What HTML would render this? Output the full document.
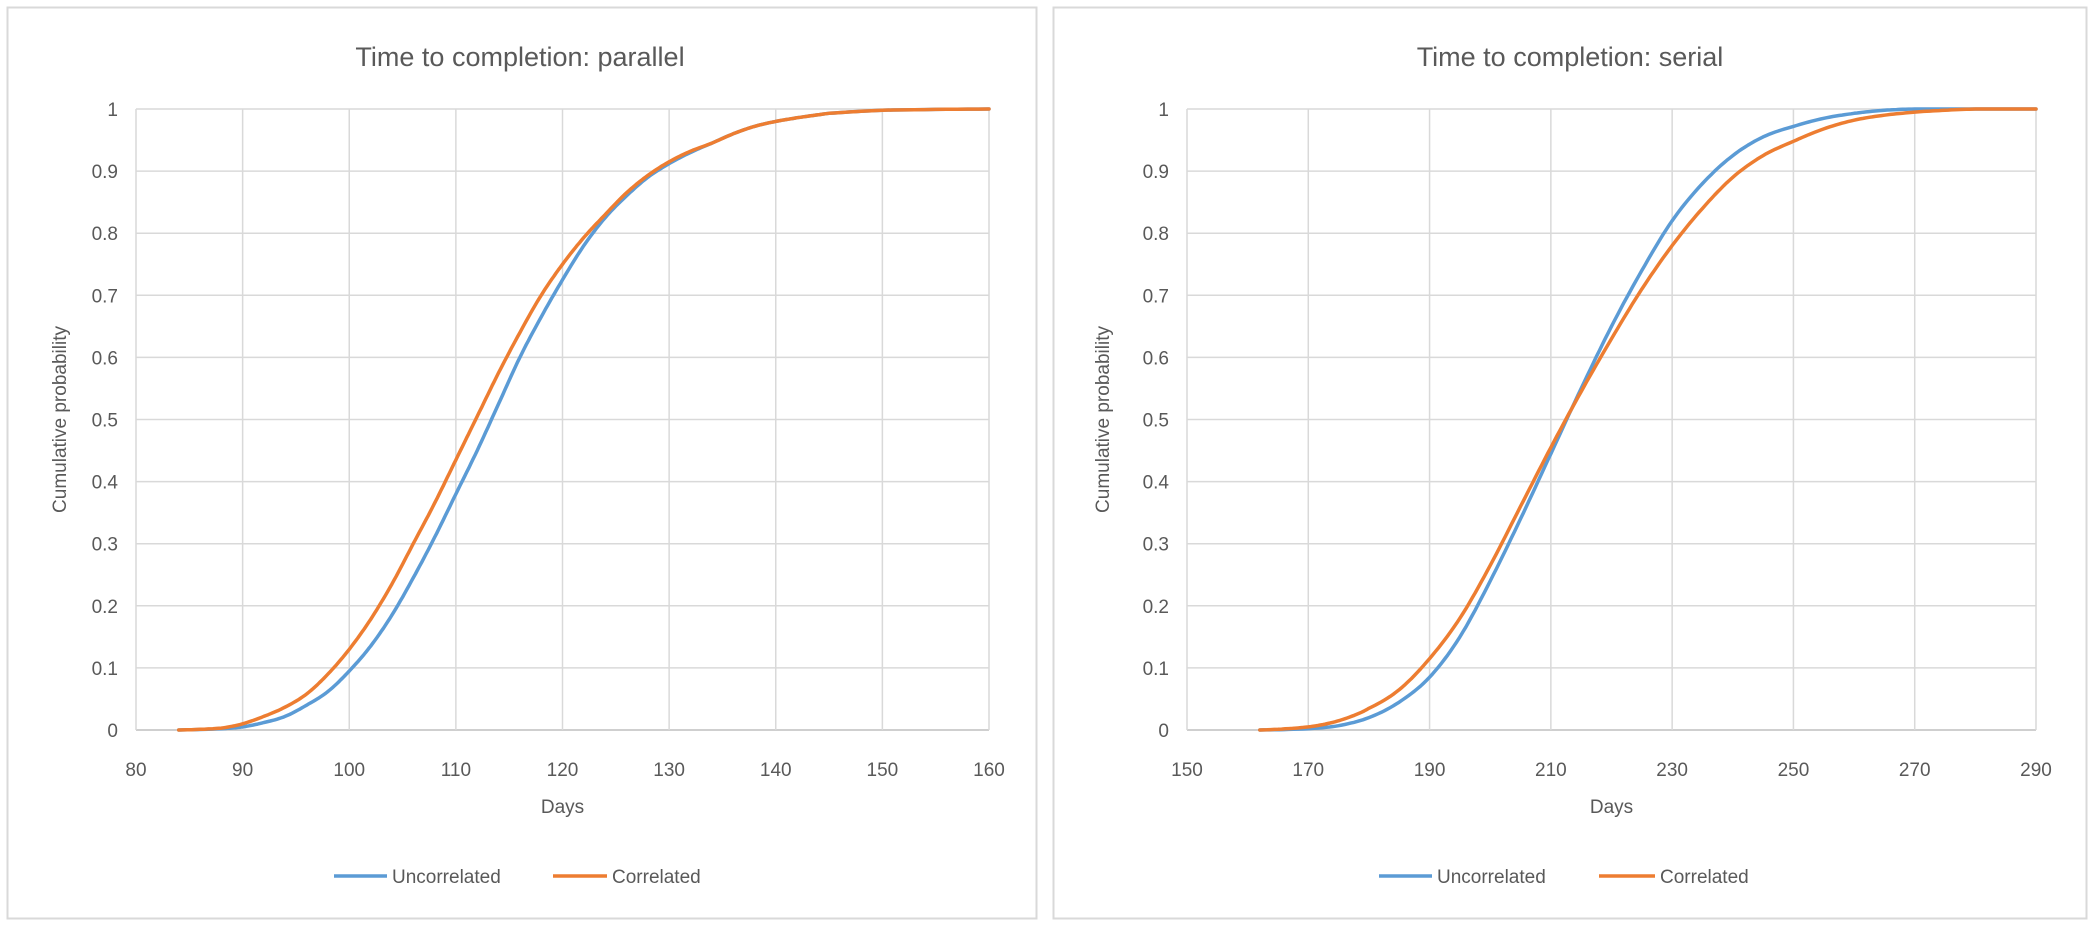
<!DOCTYPE html>
<html><head><meta charset="utf-8"><style>
html,body{margin:0;padding:0;background:#fff;}
svg{display:block;font-family:"Liberation Sans",sans-serif;}
</style></head><body>
<svg id="s" width="2093" height="925" viewBox="0 0 2093 925" xmlns="http://www.w3.org/2000/svg">
<rect x="0" y="0" width="2093" height="925" fill="#fff"/>
<rect x="7.5" y="7.5" width="1029" height="911" fill="none" stroke="#d9d9d9" stroke-width="2"/>
<rect x="1053.5" y="7.5" width="1033" height="911" fill="none" stroke="#d9d9d9" stroke-width="2"/>
<g id="g"></g>
</svg>
<script>
const NS="http://www.w3.org/2000/svg";
const g=document.getElementById('g');
function el(t,a,txt){const e=document.createElementNS(NS,t);for(const k in a)e.setAttribute(k,a[k]);if(txt!==undefined)e.textContent=txt;g.appendChild(e);return e;}
const Y0=730,Y1=109;
function chart(o){
  const {x0,x1,xmin,xmax,step,title,cx,series,legend,ylab}=o;
  const sx=v=>x0+(v-xmin)/(xmax-xmin)*(x1-x0);
  const sy=p=>Y0+(Y1-Y0)*p;
  for(let i=0;i<=10;i++){const y=sy(i/10);el('line',{x1:x0,x2:x1,y1:y,y2:y,stroke:i==0?'#bfbfbf':'#d9d9d9','stroke-width':1.5});
    el('text',{x:x0-18,y:y+7,'text-anchor':'end','font-size':19,fill:'#595959'},i==0?'0':i==10?'1':(i/10).toString());}
  for(let v=xmin;v<=xmax;v+=step){const x=sx(v);el('line',{x1:x,x2:x,y1:Y1,y2:Y0,stroke:'#d9d9d9','stroke-width':1.5});
    el('text',{x:x,y:776,'text-anchor':'middle','font-size':19,fill:'#595959'},v);}
  el('text',{x:cx,y:66,'text-anchor':'middle','font-size':27,fill:'#595959'},title);
  el('text',{x:(x0+x1)/2,y:813,'text-anchor':'middle','font-size':19,fill:'#595959'},'Days');
  el('text',{x:0,y:0,'text-anchor':'middle','font-size':19,fill:'#595959',transform:`translate(${ylab},${(Y0+Y1)/2}) rotate(-90)`},'Cumulative probability');
  series.forEach(s=>{
    // monotone-ish smoothing via linear interpolation on fine grid
    const pts=s.d;let str='';
    for(let i=0;i<pts.length-1;i++){
      const [a,pa]=pts[i],[b,pb]=pts[i+1];
      const p0=i>0?pts[i-1][1]:pa, p3=i<pts.length-2?pts[i+2][1]:pb;
      for(let t=0;t<1;t+=0.1){
        let p=0.5*((2*pa)+(-p0+pb)*t+(2*p0-5*pa+4*pb-p3)*t*t+(-p0+3*pa-3*pb+p3)*t*t*t);
        p=Math.max(Math.min(p,Math.max(pa,pb)),Math.min(pa,pb));
        str+=(str?' L':'M')+sx(a+(b-a)*t).toFixed(1)+','+sy(p).toFixed(1);
      }
    }
    const l=pts[pts.length-1];str+=' L'+sx(l[0]).toFixed(1)+','+sy(l[1]).toFixed(1);
    el('path',{d:str,fill:'none',stroke:s.c,'stroke-width':3.5,'stroke-linejoin':'round','stroke-linecap':'round'});
  });
  legend.forEach(L=>{el('line',{x1:L[0],x2:L[1],y1:876,y2:876,stroke:L[3],'stroke-width':3.5});
    el('text',{x:L[1]+5,y:883,'font-size':19,fill:'#595959'},L[2]);});
}
const B='#5B9BD5',O='#ED7D31';
const tail=[[134,0.945],[136,0.96],[138,0.972],[140,0.98],[142,0.986],[145,0.993],[150,0.998],[160,1]];
chart({x0:136,x1:989,xmin:80,xmax:160,step:10,title:'Time to completion: parallel',cx:520,ylab:66,
 series:[
 {c:B,d:[[84,0],[88,0.002],[90,0.005],[92,0.012],[94,0.022],[96,0.04],[98,0.062],[100,0.095],[102,0.135],[104,0.185],[106,0.245],[108,0.31],[110,0.38],[112,0.45],[114,0.525],[116,0.6],[118,0.665],[120,0.725],[122,0.78],[124,0.825],[126,0.86],[128,0.89],[130,0.912],[132,0.93]].concat(tail)},
 {c:O,d:[[84,0],[88,0.003],[90,0.01],[92,0.022],[94,0.037],[96,0.058],[98,0.09],[100,0.13],[102,0.178],[104,0.235],[106,0.3],[108,0.365],[110,0.435],[112,0.505],[114,0.575],[116,0.64],[118,0.7],[120,0.75],[122,0.793],[124,0.83],[126,0.865],[128,0.893],[130,0.915],[132,0.932]].concat(tail)}],
 legend:[[334,387,'Uncorrelated',B],[553,607,'Correlated',O]]});
chart({x0:1187,x1:2036,xmin:150,xmax:290,step:20,title:'Time to completion: serial',cx:1570,ylab:1109,
 series:[
 {c:B,d:[[162,0],[170,0.002],[175,0.007],[180,0.02],[185,0.045],[190,0.085],[195,0.15],[200,0.24],[205,0.34],[210,0.445],[215,0.55],[220,0.65],[225,0.74],[230,0.82],[235,0.88],[240,0.925],[245,0.955],[250,0.972],[255,0.985],[260,0.993],[265,0.998],[270,1],[290,1]]},
 {c:O,d:[[162,0],[168,0.003],[172,0.008],[176,0.018],[180,0.035],[185,0.065],[190,0.115],[195,0.18],[200,0.265],[205,0.36],[210,0.455],[215,0.545],[220,0.63],[225,0.71],[230,0.78],[235,0.84],[240,0.89],[245,0.925],[250,0.948],[255,0.968],[260,0.982],[265,0.99],[270,0.995],[275,0.998],[280,1],[290,1]]}],
 legend:[[1379,1432,'Uncorrelated',B],[1599,1655,'Correlated',O]]});
</script>
</body></html>
